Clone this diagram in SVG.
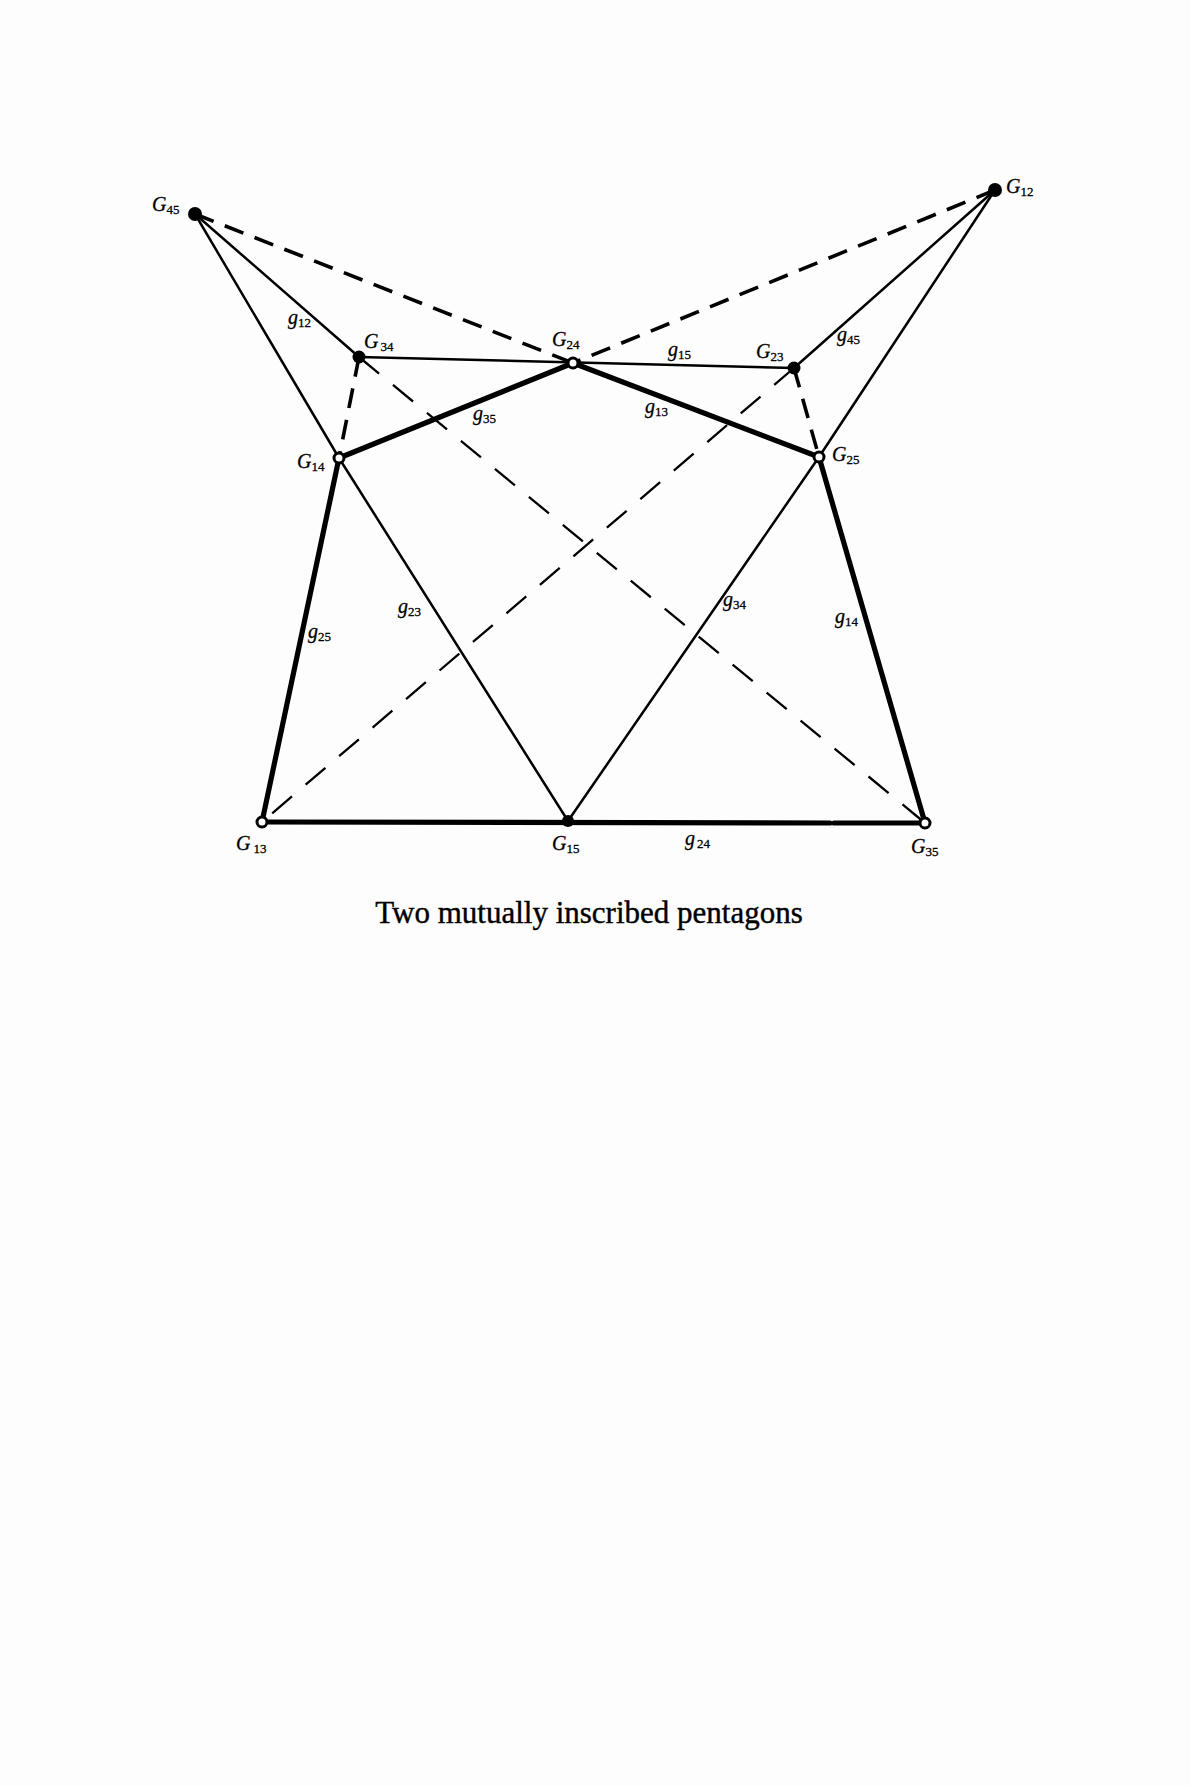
<svg xmlns="http://www.w3.org/2000/svg" width="1191" height="1786" viewBox="0 0 1191 1786">
<style>
.thin{stroke:#000;stroke-width:2.5;fill:none;stroke-linecap:round}
.thick{stroke:#000;stroke-width:5.2;fill:none;stroke-linecap:round}
.hd{stroke:#000;stroke-width:3.6;fill:none;stroke-dasharray:20 12}
.td{stroke:#000;stroke-width:2.3;fill:none;stroke-dasharray:26 18}
.fill{fill:#000}
.open{fill:#fff;stroke:#000;stroke-width:3}
.lbl{font-family:"Liberation Serif",serif;font-style:italic;font-size:20px;fill:#000;stroke:#000;stroke-width:0.3}
.sub{font-style:normal;font-size:13px}
.cap{font-family:"Liberation Serif",serif;font-size:31px;fill:#000;stroke:#000;stroke-width:0.4}
</style>
<rect width="1191" height="1786" fill="#fdfdfd"/>
<g id="connectors">
<line class="thin" x1="195" y1="214" x2="339" y2="458"/>
<line class="thin" x1="195" y1="214" x2="359" y2="357"/>
<line class="thin" x1="359" y1="357" x2="794" y2="368"/>
<line class="thin" x1="995" y1="190" x2="794" y2="368"/>
<line class="thin" x1="995" y1="190" x2="819" y2="457"/>
<line class="thin" x1="339" y1="458" x2="568" y2="821"/>
<line class="thin" x1="819" y1="457" x2="568" y2="821"/>
<line class="hd" x1="195" y1="214" x2="573" y2="363"/>
<line class="hd" x1="995" y1="190" x2="573" y2="363"/>
<line class="hd" x1="359" y1="357" x2="339" y2="458"/>
<line class="hd" x1="794" y1="368" x2="819" y2="457"/>
<line class="td" x1="359" y1="357" x2="925" y2="823"/>
<line class="td" x1="794" y1="368" x2="262" y2="822"/>
<line class="thick" x1="339" y1="458" x2="573" y2="363"/>
<line class="thick" x1="573" y1="363" x2="819" y2="457"/>
<line class="thick" x1="819" y1="457" x2="925" y2="823"/>
<line class="thick" x1="262" y1="822" x2="339" y2="458"/>
<line class="thick" x1="262" y1="822" x2="830" y2="823" stroke-linecap="butt"/>
<line class="thick" x1="834" y1="823" x2="925" y2="823" stroke-linecap="butt"/>
</g>
<g id="G45"><circle class="fill" cx="195" cy="214" r="7"/><text class="lbl" x="152" y="211">G<tspan class="sub" dy="3">45</tspan></text></g>
<g id="G12"><circle class="fill" cx="995" cy="190" r="7"/><text class="lbl" x="1006" y="193">G<tspan class="sub" dy="3">12</tspan></text></g>
<g id="G34"><circle class="fill" cx="359" cy="357" r="6.5"/><text class="lbl" x="364" y="348">G<tspan class="sub" dx="2" dy="3">34</tspan></text></g>
<g id="G23"><circle class="fill" cx="794" cy="368" r="6.5"/><text class="lbl" x="756" y="358">G<tspan class="sub" dy="3">23</tspan></text></g>
<g id="G15"><circle class="fill" cx="568" cy="821" r="6"/><text class="lbl" x="552" y="850">G<tspan class="sub" dy="3">15</tspan></text></g>
<g id="G24"><circle class="open" cx="573" cy="363" r="5"/><text class="lbl" x="552" y="346">G<tspan class="sub" dy="3">24</tspan></text></g>
<g id="G14"><circle class="open" cx="339" cy="458" r="5"/><text class="lbl" x="297" y="468">G<tspan class="sub" dy="3">14</tspan></text></g>
<g id="G25"><circle class="open" cx="819" cy="457" r="5"/><text class="lbl" x="832" y="461">G<tspan class="sub" dy="3">25</tspan></text></g>
<g id="G13"><circle class="open" cx="262" cy="822" r="5"/><text class="lbl" x="236" y="850">G<tspan class="sub" dx="3" dy="3">13</tspan></text></g>
<g id="G35"><circle class="open" cx="925" cy="823" r="5"/><text class="lbl" x="911" y="853">G<tspan class="sub" dy="3">35</tspan></text></g>
<g id="labels">
<text class="lbl" x="288" y="324">g<tspan class="sub" dy="3">12</tspan></text>
<text class="lbl" x="668" y="356">g<tspan class="sub" dy="3">15</tspan></text>
<text class="lbl" x="837" y="341">g<tspan class="sub" dy="3">45</tspan></text>
<text class="lbl" x="473" y="420">g<tspan class="sub" dy="3">35</tspan></text>
<text class="lbl" x="645" y="413">g<tspan class="sub" dy="3">13</tspan></text>
<text class="lbl" x="398" y="613">g<tspan class="sub" dy="3">23</tspan></text>
<text class="lbl" x="308" y="638">g<tspan class="sub" dy="3">25</tspan></text>
<text class="lbl" x="723" y="606">g<tspan class="sub" dy="3">34</tspan></text>
<text class="lbl" x="835" y="623">g<tspan class="sub" dy="3">14</tspan></text>
<text class="lbl" x="685" y="845">g<tspan class="sub" dx="2" dy="3">24</tspan></text>
</g>
<text class="cap" x="589" y="923" text-anchor="middle">Two mutually inscribed pentagons</text>
</svg>
